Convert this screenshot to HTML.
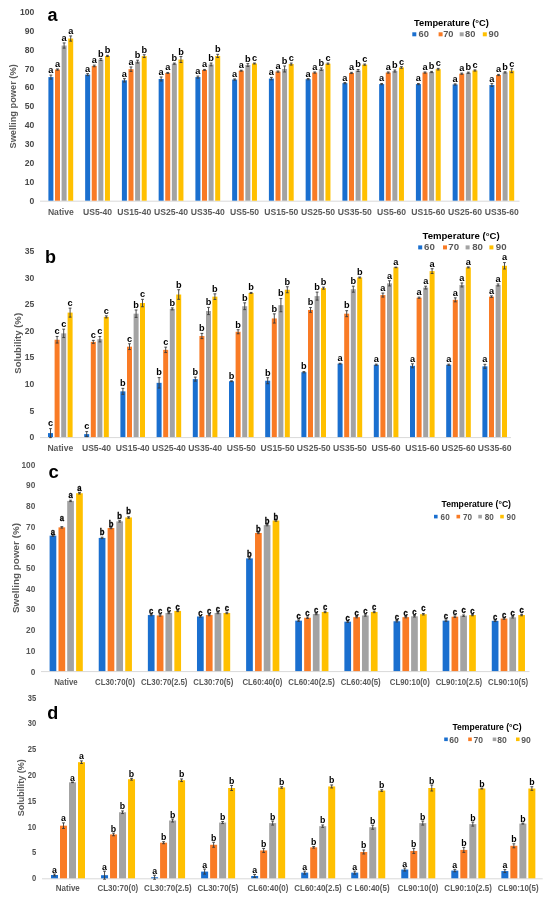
<!DOCTYPE html>
<html><head><meta charset="utf-8"><style>
html,body{margin:0;padding:0;background:#fff;width:550px;height:901px;overflow:hidden}
svg{display:block;font-family:"Liberation Sans",sans-serif;filter:blur(0.35px)}
</style></head><body>
<svg width="550" height="901" viewBox="0 0 550 901">
<text x="34.40" y="203.80" font-size="8.6" text-anchor="end" font-weight="bold" fill="#484848" >0</text>
<text x="34.40" y="184.90" font-size="8.6" text-anchor="end" font-weight="bold" fill="#484848" >10</text>
<text x="34.40" y="166.00" font-size="8.6" text-anchor="end" font-weight="bold" fill="#484848" >20</text>
<text x="34.40" y="147.10" font-size="8.6" text-anchor="end" font-weight="bold" fill="#484848" >30</text>
<text x="34.40" y="128.20" font-size="8.6" text-anchor="end" font-weight="bold" fill="#484848" >40</text>
<text x="34.40" y="109.30" font-size="8.6" text-anchor="end" font-weight="bold" fill="#484848" >50</text>
<text x="34.40" y="90.40" font-size="8.6" text-anchor="end" font-weight="bold" fill="#484848" >60</text>
<text x="34.40" y="71.50" font-size="8.6" text-anchor="end" font-weight="bold" fill="#484848" >70</text>
<text x="34.40" y="52.60" font-size="8.6" text-anchor="end" font-weight="bold" fill="#484848" >80</text>
<text x="34.40" y="33.70" font-size="8.6" text-anchor="end" font-weight="bold" fill="#484848" >90</text>
<text x="34.40" y="14.80" font-size="8.6" text-anchor="end" font-weight="bold" fill="#484848" >100</text>
<line x1="40" y1="201.20" x2="519.5" y2="201.20" stroke="#d9d9d9" stroke-width="1"/>
<rect x="48.40" y="77.09" width="5.00" height="123.61" fill="#1a6fcf"/>
<path d="M49.50 75.09h2.8M50.90 75.09V79.09M49.50 79.09h2.8" stroke="#3a3a3a" stroke-width="0.9" fill="none"/>
<text x="50.90" y="73.09" font-size="9.2" text-anchor="middle" font-weight="bold" fill="#000" >a</text>
<rect x="55.00" y="69.53" width="5.00" height="131.17" fill="#f97b25"/>
<path d="M56.10 68.93h2.8M57.50 68.93V70.13M56.10 70.13h2.8" stroke="#3a3a3a" stroke-width="0.9" fill="none"/>
<text x="57.50" y="66.93" font-size="9.2" text-anchor="middle" font-weight="bold" fill="#000" >a</text>
<rect x="61.60" y="45.53" width="5.00" height="155.17" fill="#a3a3a3"/>
<path d="M62.70 42.93h2.8M64.10 42.93V48.13M62.70 48.13h2.8" stroke="#3a3a3a" stroke-width="0.9" fill="none"/>
<text x="64.10" y="40.93" font-size="9.2" text-anchor="middle" font-weight="bold" fill="#000" >a</text>
<rect x="68.20" y="38.54" width="5.00" height="162.16" fill="#ffc000"/>
<path d="M69.30 35.94h2.8M70.70 35.94V41.14M69.30 41.14h2.8" stroke="#3a3a3a" stroke-width="0.9" fill="none"/>
<text x="70.70" y="33.94" font-size="9.2" text-anchor="middle" font-weight="bold" fill="#000" >a</text>
<text x="60.80" y="214.70" font-size="8.6" text-anchor="middle" font-weight="bold" fill="#595959" >Native</text>
<rect x="85.15" y="74.64" width="5.00" height="126.06" fill="#1a6fcf"/>
<path d="M86.25 73.64h2.8M87.65 73.64V75.64M86.25 75.64h2.8" stroke="#3a3a3a" stroke-width="0.9" fill="none"/>
<text x="87.65" y="71.64" font-size="9.2" text-anchor="middle" font-weight="bold" fill="#000" >a</text>
<rect x="91.75" y="65.94" width="5.00" height="134.76" fill="#f97b25"/>
<path d="M92.85 65.14h2.8M94.25 65.14V66.74M92.85 66.74h2.8" stroke="#3a3a3a" stroke-width="0.9" fill="none"/>
<text x="94.25" y="63.14" font-size="9.2" text-anchor="middle" font-weight="bold" fill="#000" >a</text>
<rect x="98.35" y="59.52" width="5.00" height="141.18" fill="#a3a3a3"/>
<path d="M99.45 58.52h2.8M100.85 58.52V60.52M99.45 60.52h2.8" stroke="#3a3a3a" stroke-width="0.9" fill="none"/>
<text x="100.85" y="56.52" font-size="9.2" text-anchor="middle" font-weight="bold" fill="#000" >b</text>
<rect x="104.95" y="55.93" width="5.00" height="144.77" fill="#ffc000"/>
<path d="M106.05 55.33h2.8M107.45 55.33V56.53M106.05 56.53h2.8" stroke="#3a3a3a" stroke-width="0.9" fill="none"/>
<text x="107.45" y="53.33" font-size="9.2" text-anchor="middle" font-weight="bold" fill="#000" >b</text>
<text x="97.55" y="214.70" font-size="8.6" text-anchor="middle" font-weight="bold" fill="#595959" >US5-40</text>
<rect x="121.90" y="80.31" width="5.00" height="120.39" fill="#1a6fcf"/>
<path d="M123.00 78.61h2.8M124.40 78.61V82.01M123.00 82.01h2.8" stroke="#3a3a3a" stroke-width="0.9" fill="none"/>
<text x="124.40" y="76.61" font-size="9.2" text-anchor="middle" font-weight="bold" fill="#000" >a</text>
<rect x="128.50" y="69.16" width="5.00" height="131.54" fill="#f97b25"/>
<path d="M129.60 66.96h2.8M131.00 66.96V71.36M129.60 71.36h2.8" stroke="#3a3a3a" stroke-width="0.9" fill="none"/>
<text x="131.00" y="64.96" font-size="9.2" text-anchor="middle" font-weight="bold" fill="#000" >a</text>
<rect x="135.10" y="61.60" width="5.00" height="139.10" fill="#a3a3a3"/>
<path d="M136.20 60.20h2.8M137.60 60.20V63.00M136.20 63.00h2.8" stroke="#3a3a3a" stroke-width="0.9" fill="none"/>
<text x="137.60" y="58.20" font-size="9.2" text-anchor="middle" font-weight="bold" fill="#000" >b</text>
<rect x="141.70" y="56.12" width="5.00" height="144.58" fill="#ffc000"/>
<path d="M142.80 54.72h2.8M144.20 54.72V57.52M142.80 57.52h2.8" stroke="#3a3a3a" stroke-width="0.9" fill="none"/>
<text x="144.20" y="52.72" font-size="9.2" text-anchor="middle" font-weight="bold" fill="#000" >b</text>
<text x="134.30" y="214.70" font-size="8.6" text-anchor="middle" font-weight="bold" fill="#595959" >US15-40</text>
<rect x="158.65" y="78.98" width="5.00" height="121.72" fill="#1a6fcf"/>
<path d="M159.75 76.98h2.8M161.15 76.98V80.98M159.75 80.98h2.8" stroke="#3a3a3a" stroke-width="0.9" fill="none"/>
<text x="161.15" y="74.98" font-size="9.2" text-anchor="middle" font-weight="bold" fill="#000" >a</text>
<rect x="165.25" y="72.94" width="5.00" height="127.76" fill="#f97b25"/>
<path d="M166.35 72.44h2.8M167.75 72.44V73.44M166.35 73.44h2.8" stroke="#3a3a3a" stroke-width="0.9" fill="none"/>
<text x="167.75" y="70.44" font-size="9.2" text-anchor="middle" font-weight="bold" fill="#000" >a</text>
<rect x="171.85" y="63.67" width="5.00" height="137.03" fill="#a3a3a3"/>
<path d="M172.95 63.07h2.8M174.35 63.07V64.27M172.95 64.27h2.8" stroke="#3a3a3a" stroke-width="0.9" fill="none"/>
<text x="174.35" y="61.07" font-size="9.2" text-anchor="middle" font-weight="bold" fill="#000" >b</text>
<rect x="178.45" y="59.52" width="5.00" height="141.18" fill="#ffc000"/>
<path d="M179.55 56.52h2.8M180.95 56.52V62.52M179.55 62.52h2.8" stroke="#3a3a3a" stroke-width="0.9" fill="none"/>
<text x="180.95" y="54.52" font-size="9.2" text-anchor="middle" font-weight="bold" fill="#000" >b</text>
<text x="171.05" y="214.70" font-size="8.6" text-anchor="middle" font-weight="bold" fill="#595959" >US25-40</text>
<rect x="195.40" y="77.09" width="5.00" height="123.61" fill="#1a6fcf"/>
<path d="M196.50 76.09h2.8M197.90 76.09V78.09M196.50 78.09h2.8" stroke="#3a3a3a" stroke-width="0.9" fill="none"/>
<text x="197.90" y="74.09" font-size="9.2" text-anchor="middle" font-weight="bold" fill="#000" >a</text>
<rect x="202.00" y="69.91" width="5.00" height="130.79" fill="#f97b25"/>
<path d="M203.10 69.41h2.8M204.50 69.41V70.41M203.10 70.41h2.8" stroke="#3a3a3a" stroke-width="0.9" fill="none"/>
<text x="204.50" y="67.41" font-size="9.2" text-anchor="middle" font-weight="bold" fill="#000" >a</text>
<rect x="208.60" y="64.43" width="5.00" height="136.27" fill="#a3a3a3"/>
<path d="M209.70 63.03h2.8M211.10 63.03V65.83M209.70 65.83h2.8" stroke="#3a3a3a" stroke-width="0.9" fill="none"/>
<text x="211.10" y="61.03" font-size="9.2" text-anchor="middle" font-weight="bold" fill="#000" >b</text>
<rect x="215.20" y="55.93" width="5.00" height="144.77" fill="#ffc000"/>
<path d="M216.30 54.33h2.8M217.70 54.33V57.53M216.30 57.53h2.8" stroke="#3a3a3a" stroke-width="0.9" fill="none"/>
<text x="217.70" y="52.33" font-size="9.2" text-anchor="middle" font-weight="bold" fill="#000" >b</text>
<text x="207.80" y="214.70" font-size="8.6" text-anchor="middle" font-weight="bold" fill="#595959" >US35-40</text>
<rect x="232.15" y="79.55" width="5.00" height="121.15" fill="#1a6fcf"/>
<path d="M233.25 78.95h2.8M234.65 78.95V80.15M233.25 80.15h2.8" stroke="#3a3a3a" stroke-width="0.9" fill="none"/>
<text x="234.65" y="76.95" font-size="9.2" text-anchor="middle" font-weight="bold" fill="#000" >a</text>
<rect x="238.75" y="70.67" width="5.00" height="130.03" fill="#f97b25"/>
<path d="M239.85 70.17h2.8M241.25 70.17V71.17M239.85 71.17h2.8" stroke="#3a3a3a" stroke-width="0.9" fill="none"/>
<text x="241.25" y="68.17" font-size="9.2" text-anchor="middle" font-weight="bold" fill="#000" >a</text>
<rect x="245.35" y="65.00" width="5.00" height="135.70" fill="#a3a3a3"/>
<path d="M246.45 63.60h2.8M247.85 63.60V66.40M246.45 66.40h2.8" stroke="#3a3a3a" stroke-width="0.9" fill="none"/>
<text x="247.85" y="61.60" font-size="9.2" text-anchor="middle" font-weight="bold" fill="#000" >b</text>
<rect x="251.95" y="63.49" width="5.00" height="137.21" fill="#ffc000"/>
<path d="M253.05 62.99h2.8M254.45 62.99V63.99M253.05 63.99h2.8" stroke="#3a3a3a" stroke-width="0.9" fill="none"/>
<text x="254.45" y="60.99" font-size="9.2" text-anchor="middle" font-weight="bold" fill="#000" >c</text>
<text x="244.55" y="214.70" font-size="8.6" text-anchor="middle" font-weight="bold" fill="#595959" >US5-50</text>
<rect x="268.90" y="78.61" width="5.00" height="122.09" fill="#1a6fcf"/>
<path d="M270.00 77.41h2.8M271.40 77.41V79.81M270.00 79.81h2.8" stroke="#3a3a3a" stroke-width="0.9" fill="none"/>
<text x="271.40" y="75.41" font-size="9.2" text-anchor="middle" font-weight="bold" fill="#000" >a</text>
<rect x="275.50" y="71.61" width="5.00" height="129.09" fill="#f97b25"/>
<path d="M276.60 71.01h2.8M278.00 71.01V72.21M276.60 72.21h2.8" stroke="#3a3a3a" stroke-width="0.9" fill="none"/>
<text x="278.00" y="69.01" font-size="9.2" text-anchor="middle" font-weight="bold" fill="#000" >a</text>
<rect x="282.10" y="68.97" width="5.00" height="131.73" fill="#a3a3a3"/>
<path d="M283.20 65.97h2.8M284.60 65.97V71.97M283.20 71.97h2.8" stroke="#3a3a3a" stroke-width="0.9" fill="none"/>
<text x="284.60" y="63.97" font-size="9.2" text-anchor="middle" font-weight="bold" fill="#000" >b</text>
<rect x="288.70" y="64.05" width="5.00" height="136.65" fill="#ffc000"/>
<path d="M289.80 63.05h2.8M291.20 63.05V65.05M289.80 65.05h2.8" stroke="#3a3a3a" stroke-width="0.9" fill="none"/>
<text x="291.20" y="61.05" font-size="9.2" text-anchor="middle" font-weight="bold" fill="#000" >c</text>
<text x="281.30" y="214.70" font-size="8.6" text-anchor="middle" font-weight="bold" fill="#595959" >US15-50</text>
<rect x="305.65" y="79.17" width="5.00" height="121.53" fill="#1a6fcf"/>
<path d="M306.75 78.57h2.8M308.15 78.57V79.77M306.75 79.77h2.8" stroke="#3a3a3a" stroke-width="0.9" fill="none"/>
<text x="308.15" y="76.57" font-size="9.2" text-anchor="middle" font-weight="bold" fill="#000" >a</text>
<rect x="312.25" y="72.56" width="5.00" height="128.14" fill="#f97b25"/>
<path d="M313.35 71.96h2.8M314.75 71.96V73.16M313.35 73.16h2.8" stroke="#3a3a3a" stroke-width="0.9" fill="none"/>
<text x="314.75" y="69.96" font-size="9.2" text-anchor="middle" font-weight="bold" fill="#000" >a</text>
<rect x="318.85" y="69.16" width="5.00" height="131.54" fill="#a3a3a3"/>
<path d="M319.95 67.96h2.8M321.35 67.96V70.36M319.95 70.36h2.8" stroke="#3a3a3a" stroke-width="0.9" fill="none"/>
<text x="321.35" y="65.96" font-size="9.2" text-anchor="middle" font-weight="bold" fill="#000" >b</text>
<rect x="325.45" y="63.67" width="5.00" height="137.03" fill="#ffc000"/>
<path d="M326.55 63.07h2.8M327.95 63.07V64.27M326.55 64.27h2.8" stroke="#3a3a3a" stroke-width="0.9" fill="none"/>
<text x="327.95" y="61.07" font-size="9.2" text-anchor="middle" font-weight="bold" fill="#000" >c</text>
<text x="318.05" y="214.70" font-size="8.6" text-anchor="middle" font-weight="bold" fill="#595959" >US25-50</text>
<rect x="342.40" y="83.14" width="5.00" height="117.56" fill="#1a6fcf"/>
<path d="M343.50 82.54h2.8M344.90 82.54V83.74M343.50 83.74h2.8" stroke="#3a3a3a" stroke-width="0.9" fill="none"/>
<text x="344.90" y="80.54" font-size="9.2" text-anchor="middle" font-weight="bold" fill="#000" >a</text>
<rect x="349.00" y="72.94" width="5.00" height="127.76" fill="#f97b25"/>
<path d="M350.10 72.34h2.8M351.50 72.34V73.54M350.10 73.54h2.8" stroke="#3a3a3a" stroke-width="0.9" fill="none"/>
<text x="351.50" y="70.34" font-size="9.2" text-anchor="middle" font-weight="bold" fill="#000" >a</text>
<rect x="355.60" y="70.48" width="5.00" height="130.22" fill="#a3a3a3"/>
<path d="M356.70 69.48h2.8M358.10 69.48V71.48M356.70 71.48h2.8" stroke="#3a3a3a" stroke-width="0.9" fill="none"/>
<text x="358.10" y="67.48" font-size="9.2" text-anchor="middle" font-weight="bold" fill="#000" >b</text>
<rect x="362.20" y="64.62" width="5.00" height="136.08" fill="#ffc000"/>
<path d="M363.30 64.02h2.8M364.70 64.02V65.22M363.30 65.22h2.8" stroke="#3a3a3a" stroke-width="0.9" fill="none"/>
<text x="364.70" y="62.02" font-size="9.2" text-anchor="middle" font-weight="bold" fill="#000" >c</text>
<text x="354.80" y="214.70" font-size="8.6" text-anchor="middle" font-weight="bold" fill="#595959" >US35-50</text>
<rect x="379.15" y="84.09" width="5.00" height="116.61" fill="#1a6fcf"/>
<path d="M380.25 83.49h2.8M381.65 83.49V84.69M380.25 84.69h2.8" stroke="#3a3a3a" stroke-width="0.9" fill="none"/>
<text x="381.65" y="81.49" font-size="9.2" text-anchor="middle" font-weight="bold" fill="#000" >a</text>
<rect x="385.75" y="72.56" width="5.00" height="128.14" fill="#f97b25"/>
<path d="M386.85 71.96h2.8M388.25 71.96V73.16M386.85 73.16h2.8" stroke="#3a3a3a" stroke-width="0.9" fill="none"/>
<text x="388.25" y="69.96" font-size="9.2" text-anchor="middle" font-weight="bold" fill="#000" >a</text>
<rect x="392.35" y="71.05" width="5.00" height="129.65" fill="#a3a3a3"/>
<path d="M393.45 70.05h2.8M394.85 70.05V72.05M393.45 72.05h2.8" stroke="#3a3a3a" stroke-width="0.9" fill="none"/>
<text x="394.85" y="68.05" font-size="9.2" text-anchor="middle" font-weight="bold" fill="#000" >b</text>
<rect x="398.95" y="67.45" width="5.00" height="133.25" fill="#ffc000"/>
<path d="M400.05 66.65h2.8M401.45 66.65V68.25M400.05 68.25h2.8" stroke="#3a3a3a" stroke-width="0.9" fill="none"/>
<text x="401.45" y="64.65" font-size="9.2" text-anchor="middle" font-weight="bold" fill="#000" >c</text>
<text x="391.55" y="214.70" font-size="8.6" text-anchor="middle" font-weight="bold" fill="#595959" >US5-60</text>
<rect x="415.90" y="84.09" width="5.00" height="116.61" fill="#1a6fcf"/>
<path d="M417.00 83.49h2.8M418.40 83.49V84.69M417.00 84.69h2.8" stroke="#3a3a3a" stroke-width="0.9" fill="none"/>
<text x="418.40" y="81.49" font-size="9.2" text-anchor="middle" font-weight="bold" fill="#000" >a</text>
<rect x="422.50" y="72.56" width="5.00" height="128.14" fill="#f97b25"/>
<path d="M423.60 71.96h2.8M425.00 71.96V73.16M423.60 73.16h2.8" stroke="#3a3a3a" stroke-width="0.9" fill="none"/>
<text x="425.00" y="69.96" font-size="9.2" text-anchor="middle" font-weight="bold" fill="#000" >a</text>
<rect x="429.10" y="71.99" width="5.00" height="128.71" fill="#a3a3a3"/>
<path d="M430.20 71.39h2.8M431.60 71.39V72.59M430.20 72.59h2.8" stroke="#3a3a3a" stroke-width="0.9" fill="none"/>
<text x="431.60" y="69.39" font-size="9.2" text-anchor="middle" font-weight="bold" fill="#000" >b</text>
<rect x="435.70" y="69.16" width="5.00" height="131.54" fill="#ffc000"/>
<path d="M436.80 68.36h2.8M438.20 68.36V69.96M436.80 69.96h2.8" stroke="#3a3a3a" stroke-width="0.9" fill="none"/>
<text x="438.20" y="66.36" font-size="9.2" text-anchor="middle" font-weight="bold" fill="#000" >c</text>
<text x="428.30" y="214.70" font-size="8.6" text-anchor="middle" font-weight="bold" fill="#595959" >US15-60</text>
<rect x="452.65" y="84.46" width="5.00" height="116.23" fill="#1a6fcf"/>
<path d="M453.75 83.86h2.8M455.15 83.86V85.06M453.75 85.06h2.8" stroke="#3a3a3a" stroke-width="0.9" fill="none"/>
<text x="455.15" y="81.86" font-size="9.2" text-anchor="middle" font-weight="bold" fill="#000" >a</text>
<rect x="459.25" y="73.69" width="5.00" height="127.01" fill="#f97b25"/>
<path d="M460.35 73.09h2.8M461.75 73.09V74.29M460.35 74.29h2.8" stroke="#3a3a3a" stroke-width="0.9" fill="none"/>
<text x="461.75" y="71.09" font-size="9.2" text-anchor="middle" font-weight="bold" fill="#000" >a</text>
<rect x="465.85" y="72.75" width="5.00" height="127.95" fill="#a3a3a3"/>
<path d="M466.95 72.15h2.8M468.35 72.15V73.35M466.95 73.35h2.8" stroke="#3a3a3a" stroke-width="0.9" fill="none"/>
<text x="468.35" y="70.15" font-size="9.2" text-anchor="middle" font-weight="bold" fill="#000" >b</text>
<rect x="472.45" y="70.48" width="5.00" height="130.22" fill="#ffc000"/>
<path d="M473.55 69.88h2.8M474.95 69.88V71.08M473.55 71.08h2.8" stroke="#3a3a3a" stroke-width="0.9" fill="none"/>
<text x="474.95" y="67.88" font-size="9.2" text-anchor="middle" font-weight="bold" fill="#000" >c</text>
<text x="465.05" y="214.70" font-size="8.6" text-anchor="middle" font-weight="bold" fill="#595959" >US25-60</text>
<rect x="489.40" y="85.03" width="5.00" height="115.67" fill="#1a6fcf"/>
<path d="M490.50 83.63h2.8M491.90 83.63V86.43M490.50 86.43h2.8" stroke="#3a3a3a" stroke-width="0.9" fill="none"/>
<text x="491.90" y="81.63" font-size="9.2" text-anchor="middle" font-weight="bold" fill="#000" >a</text>
<rect x="496.00" y="75.02" width="5.00" height="125.68" fill="#f97b25"/>
<path d="M497.10 74.42h2.8M498.50 74.42V75.61M497.10 75.61h2.8" stroke="#3a3a3a" stroke-width="0.9" fill="none"/>
<text x="498.50" y="72.42" font-size="9.2" text-anchor="middle" font-weight="bold" fill="#000" >a</text>
<rect x="502.60" y="72.37" width="5.00" height="128.33" fill="#a3a3a3"/>
<path d="M503.70 71.77h2.8M505.10 71.77V72.97M503.70 72.97h2.8" stroke="#3a3a3a" stroke-width="0.9" fill="none"/>
<text x="505.10" y="69.77" font-size="9.2" text-anchor="middle" font-weight="bold" fill="#000" >b</text>
<rect x="509.20" y="70.67" width="5.00" height="130.03" fill="#ffc000"/>
<path d="M510.30 68.67h2.8M511.70 68.67V72.67M510.30 72.67h2.8" stroke="#3a3a3a" stroke-width="0.9" fill="none"/>
<text x="511.70" y="66.67" font-size="9.2" text-anchor="middle" font-weight="bold" fill="#000" >c</text>
<text x="501.80" y="214.70" font-size="8.6" text-anchor="middle" font-weight="bold" fill="#595959" >US35-60</text>
<text x="47.50" y="20.70" font-size="18" text-anchor="start" font-weight="bold" fill="#000" >a</text>
<text transform="translate(15.60,106.40) rotate(-90)" font-size="9.25" text-anchor="middle" font-weight="bold" fill="#595959">Swelling power (%)</text>
<text x="414.00" y="26.20" font-size="9.3" text-anchor="start" font-weight="bold" fill="#000" >Temperature (°C)</text>
<rect x="412.30" y="32.30" width="4.00" height="4.00" fill="#1a6fcf"/>
<text x="418.50" y="37.40" font-size="9.3" text-anchor="start" font-weight="bold" fill="#595959" >60</text>
<rect x="438.60" y="32.30" width="4.00" height="4.00" fill="#f97b25"/>
<text x="443.20" y="37.40" font-size="9.3" text-anchor="start" font-weight="bold" fill="#595959" >70</text>
<rect x="459.70" y="32.30" width="4.00" height="4.00" fill="#a3a3a3"/>
<text x="465.00" y="37.40" font-size="9.3" text-anchor="start" font-weight="bold" fill="#595959" >80</text>
<rect x="482.80" y="32.30" width="4.00" height="4.00" fill="#ffc000"/>
<text x="488.50" y="37.40" font-size="9.3" text-anchor="start" font-weight="bold" fill="#595959" >90</text>
<text x="34.40" y="440.10" font-size="8.6" text-anchor="end" font-weight="bold" fill="#4d4d4d" >0</text>
<text x="34.40" y="413.50" font-size="8.6" text-anchor="end" font-weight="bold" fill="#4d4d4d" >5</text>
<text x="34.40" y="386.90" font-size="8.6" text-anchor="end" font-weight="bold" fill="#4d4d4d" >10</text>
<text x="34.40" y="360.30" font-size="8.6" text-anchor="end" font-weight="bold" fill="#4d4d4d" >15</text>
<text x="34.40" y="333.70" font-size="8.6" text-anchor="end" font-weight="bold" fill="#4d4d4d" >20</text>
<text x="34.40" y="307.10" font-size="8.6" text-anchor="end" font-weight="bold" fill="#4d4d4d" >25</text>
<text x="34.40" y="280.50" font-size="8.6" text-anchor="end" font-weight="bold" fill="#4d4d4d" >30</text>
<text x="34.40" y="253.90" font-size="8.6" text-anchor="end" font-weight="bold" fill="#4d4d4d" >35</text>
<line x1="40" y1="437.60" x2="511" y2="437.60" stroke="#d9d9d9" stroke-width="1"/>
<rect x="48.00" y="433.11" width="5.00" height="3.99" fill="#1a6fcf"/>
<path d="M49.10 428.61h2.8M50.50 428.61V437.61M49.10 437.61h2.8" stroke="#3a3a3a" stroke-width="0.9" fill="none"/>
<text x="50.50" y="426.41" font-size="9.2" text-anchor="middle" font-weight="bold" fill="#000" >c</text>
<rect x="54.60" y="339.74" width="5.00" height="97.36" fill="#f97b25"/>
<path d="M55.70 336.44h2.8M57.10 336.44V343.04M55.70 343.04h2.8" stroke="#3a3a3a" stroke-width="0.9" fill="none"/>
<text x="57.10" y="334.24" font-size="9.2" text-anchor="middle" font-weight="bold" fill="#000" >c</text>
<rect x="61.20" y="333.36" width="5.00" height="103.74" fill="#a3a3a3"/>
<path d="M62.30 329.16h2.8M63.70 329.16V337.56M62.30 337.56h2.8" stroke="#3a3a3a" stroke-width="0.9" fill="none"/>
<text x="63.70" y="326.96" font-size="9.2" text-anchor="middle" font-weight="bold" fill="#000" >c</text>
<rect x="67.60" y="312.61" width="5.00" height="124.49" fill="#ffc000"/>
<path d="M68.70 308.11h2.8M70.10 308.11V317.11M68.70 317.11h2.8" stroke="#3a3a3a" stroke-width="0.9" fill="none"/>
<text x="70.10" y="305.91" font-size="9.2" text-anchor="middle" font-weight="bold" fill="#000" >c</text>
<text x="60.30" y="450.90" font-size="8.6" text-anchor="middle" font-weight="bold" fill="#595959" >Native</text>
<rect x="84.20" y="434.12" width="5.00" height="2.98" fill="#1a6fcf"/>
<path d="M85.30 431.62h2.8M86.70 431.62V436.62M85.30 436.62h2.8" stroke="#3a3a3a" stroke-width="0.9" fill="none"/>
<text x="86.70" y="429.42" font-size="9.2" text-anchor="middle" font-weight="bold" fill="#000" >c</text>
<rect x="90.80" y="341.87" width="5.00" height="95.23" fill="#f97b25"/>
<path d="M91.90 340.37h2.8M93.30 340.37V343.37M91.90 343.37h2.8" stroke="#3a3a3a" stroke-width="0.9" fill="none"/>
<text x="93.30" y="338.17" font-size="9.2" text-anchor="middle" font-weight="bold" fill="#000" >c</text>
<rect x="97.40" y="339.21" width="5.00" height="97.89" fill="#a3a3a3"/>
<path d="M98.50 336.51h2.8M99.90 336.51V341.91M98.50 341.91h2.8" stroke="#3a3a3a" stroke-width="0.9" fill="none"/>
<text x="99.90" y="334.31" font-size="9.2" text-anchor="middle" font-weight="bold" fill="#000" >c</text>
<rect x="103.80" y="316.87" width="5.00" height="120.23" fill="#ffc000"/>
<path d="M104.90 315.87h2.8M106.30 315.87V317.87M104.90 317.87h2.8" stroke="#3a3a3a" stroke-width="0.9" fill="none"/>
<text x="106.30" y="313.67" font-size="9.2" text-anchor="middle" font-weight="bold" fill="#000" >c</text>
<text x="96.50" y="450.90" font-size="8.6" text-anchor="middle" font-weight="bold" fill="#595959" >US5-40</text>
<rect x="120.40" y="391.35" width="5.00" height="45.75" fill="#1a6fcf"/>
<path d="M121.50 388.35h2.8M122.90 388.35V394.35M121.50 394.35h2.8" stroke="#3a3a3a" stroke-width="0.9" fill="none"/>
<text x="122.90" y="386.15" font-size="9.2" text-anchor="middle" font-weight="bold" fill="#000" >b</text>
<rect x="127.00" y="346.66" width="5.00" height="90.44" fill="#f97b25"/>
<path d="M128.10 343.76h2.8M129.50 343.76V349.56M128.10 349.56h2.8" stroke="#3a3a3a" stroke-width="0.9" fill="none"/>
<text x="129.50" y="341.56" font-size="9.2" text-anchor="middle" font-weight="bold" fill="#000" >c</text>
<rect x="133.60" y="313.68" width="5.00" height="123.42" fill="#a3a3a3"/>
<path d="M134.70 309.98h2.8M136.10 309.98V317.38M134.70 317.38h2.8" stroke="#3a3a3a" stroke-width="0.9" fill="none"/>
<text x="136.10" y="307.78" font-size="9.2" text-anchor="middle" font-weight="bold" fill="#000" >b</text>
<rect x="140.00" y="303.04" width="5.00" height="134.06" fill="#ffc000"/>
<path d="M141.10 299.34h2.8M142.50 299.34V306.74M141.10 306.74h2.8" stroke="#3a3a3a" stroke-width="0.9" fill="none"/>
<text x="142.50" y="297.14" font-size="9.2" text-anchor="middle" font-weight="bold" fill="#000" >c</text>
<text x="132.70" y="450.90" font-size="8.6" text-anchor="middle" font-weight="bold" fill="#595959" >US15-40</text>
<rect x="156.60" y="382.84" width="5.00" height="54.26" fill="#1a6fcf"/>
<path d="M157.70 377.64h2.8M159.10 377.64V388.04M157.70 388.04h2.8" stroke="#3a3a3a" stroke-width="0.9" fill="none"/>
<text x="159.10" y="375.44" font-size="9.2" text-anchor="middle" font-weight="bold" fill="#000" >b</text>
<rect x="163.20" y="349.85" width="5.00" height="87.25" fill="#f97b25"/>
<path d="M164.30 347.15h2.8M165.70 347.15V352.55M164.30 352.55h2.8" stroke="#3a3a3a" stroke-width="0.9" fill="none"/>
<text x="165.70" y="344.95" font-size="9.2" text-anchor="middle" font-weight="bold" fill="#000" >c</text>
<rect x="169.80" y="308.89" width="5.00" height="128.21" fill="#a3a3a3"/>
<path d="M170.90 307.89h2.8M172.30 307.89V309.89M170.90 309.89h2.8" stroke="#3a3a3a" stroke-width="0.9" fill="none"/>
<text x="172.30" y="305.69" font-size="9.2" text-anchor="middle" font-weight="bold" fill="#000" >b</text>
<rect x="176.20" y="294.52" width="5.00" height="142.58" fill="#ffc000"/>
<path d="M177.30 289.72h2.8M178.70 289.72V299.32M177.30 299.32h2.8" stroke="#3a3a3a" stroke-width="0.9" fill="none"/>
<text x="178.70" y="287.52" font-size="9.2" text-anchor="middle" font-weight="bold" fill="#000" >b</text>
<text x="168.90" y="450.90" font-size="8.6" text-anchor="middle" font-weight="bold" fill="#595959" >US25-40</text>
<rect x="192.80" y="379.11" width="5.00" height="57.99" fill="#1a6fcf"/>
<path d="M193.90 377.11h2.8M195.30 377.11V381.11M193.90 381.11h2.8" stroke="#3a3a3a" stroke-width="0.9" fill="none"/>
<text x="195.30" y="374.91" font-size="9.2" text-anchor="middle" font-weight="bold" fill="#000" >b</text>
<rect x="199.40" y="336.02" width="5.00" height="101.08" fill="#f97b25"/>
<path d="M200.50 333.42h2.8M201.90 333.42V338.62M200.50 338.62h2.8" stroke="#3a3a3a" stroke-width="0.9" fill="none"/>
<text x="201.90" y="331.22" font-size="9.2" text-anchor="middle" font-weight="bold" fill="#000" >b</text>
<rect x="206.00" y="311.02" width="5.00" height="126.08" fill="#a3a3a3"/>
<path d="M207.10 307.42h2.8M208.50 307.42V314.62M207.10 314.62h2.8" stroke="#3a3a3a" stroke-width="0.9" fill="none"/>
<text x="208.50" y="305.22" font-size="9.2" text-anchor="middle" font-weight="bold" fill="#000" >b</text>
<rect x="212.40" y="296.65" width="5.00" height="140.45" fill="#ffc000"/>
<path d="M213.50 293.85h2.8M214.90 293.85V299.45M213.50 299.45h2.8" stroke="#3a3a3a" stroke-width="0.9" fill="none"/>
<text x="214.90" y="291.65" font-size="9.2" text-anchor="middle" font-weight="bold" fill="#000" >b</text>
<text x="205.10" y="450.90" font-size="8.6" text-anchor="middle" font-weight="bold" fill="#595959" >US35-40</text>
<rect x="229.00" y="381.24" width="5.00" height="55.86" fill="#1a6fcf"/>
<path d="M230.10 380.84h2.8M231.50 380.84V381.64M230.10 381.64h2.8" stroke="#3a3a3a" stroke-width="0.9" fill="none"/>
<text x="231.50" y="378.64" font-size="9.2" text-anchor="middle" font-weight="bold" fill="#000" >b</text>
<rect x="235.60" y="331.76" width="5.00" height="105.34" fill="#f97b25"/>
<path d="M236.70 329.76h2.8M238.10 329.76V333.76M236.70 333.76h2.8" stroke="#3a3a3a" stroke-width="0.9" fill="none"/>
<text x="238.10" y="327.56" font-size="9.2" text-anchor="middle" font-weight="bold" fill="#000" >b</text>
<rect x="242.20" y="306.23" width="5.00" height="130.87" fill="#a3a3a3"/>
<path d="M243.30 302.83h2.8M244.70 302.83V309.63M243.30 309.63h2.8" stroke="#3a3a3a" stroke-width="0.9" fill="none"/>
<text x="244.70" y="300.63" font-size="9.2" text-anchor="middle" font-weight="bold" fill="#000" >b</text>
<rect x="248.60" y="292.93" width="5.00" height="144.17" fill="#ffc000"/>
<path d="M249.70 292.43h2.8M251.10 292.43V293.43M249.70 293.43h2.8" stroke="#3a3a3a" stroke-width="0.9" fill="none"/>
<text x="251.10" y="290.23" font-size="9.2" text-anchor="middle" font-weight="bold" fill="#000" >b</text>
<text x="241.30" y="450.90" font-size="8.6" text-anchor="middle" font-weight="bold" fill="#595959" >US5-50</text>
<rect x="265.20" y="380.71" width="5.00" height="56.39" fill="#1a6fcf"/>
<path d="M266.30 377.71h2.8M267.70 377.71V383.71M266.30 383.71h2.8" stroke="#3a3a3a" stroke-width="0.9" fill="none"/>
<text x="267.70" y="375.51" font-size="9.2" text-anchor="middle" font-weight="bold" fill="#000" >b</text>
<rect x="271.80" y="318.46" width="5.00" height="118.64" fill="#f97b25"/>
<path d="M272.90 313.86h2.8M274.30 313.86V323.06M272.90 323.06h2.8" stroke="#3a3a3a" stroke-width="0.9" fill="none"/>
<text x="274.30" y="311.66" font-size="9.2" text-anchor="middle" font-weight="bold" fill="#000" >b</text>
<rect x="278.40" y="305.16" width="5.00" height="131.94" fill="#a3a3a3"/>
<path d="M279.50 298.56h2.8M280.90 298.56V311.76M279.50 311.76h2.8" stroke="#3a3a3a" stroke-width="0.9" fill="none"/>
<text x="280.90" y="296.36" font-size="9.2" text-anchor="middle" font-weight="bold" fill="#000" >b</text>
<rect x="284.80" y="289.74" width="5.00" height="147.36" fill="#ffc000"/>
<path d="M285.90 286.74h2.8M287.30 286.74V292.74M285.90 292.74h2.8" stroke="#3a3a3a" stroke-width="0.9" fill="none"/>
<text x="287.30" y="284.54" font-size="9.2" text-anchor="middle" font-weight="bold" fill="#000" >b</text>
<text x="277.50" y="450.90" font-size="8.6" text-anchor="middle" font-weight="bold" fill="#595959" >US15-50</text>
<rect x="301.40" y="372.20" width="5.00" height="64.90" fill="#1a6fcf"/>
<path d="M302.50 371.60h2.8M303.90 371.60V372.80M302.50 372.80h2.8" stroke="#3a3a3a" stroke-width="0.9" fill="none"/>
<text x="303.90" y="369.40" font-size="9.2" text-anchor="middle" font-weight="bold" fill="#000" >b</text>
<rect x="308.00" y="309.95" width="5.00" height="127.15" fill="#f97b25"/>
<path d="M309.10 307.55h2.8M310.50 307.55V312.35M309.10 312.35h2.8" stroke="#3a3a3a" stroke-width="0.9" fill="none"/>
<text x="310.50" y="305.35" font-size="9.2" text-anchor="middle" font-weight="bold" fill="#000" >b</text>
<rect x="314.60" y="296.12" width="5.00" height="140.98" fill="#a3a3a3"/>
<path d="M315.70 292.12h2.8M317.10 292.12V300.12M315.70 300.12h2.8" stroke="#3a3a3a" stroke-width="0.9" fill="none"/>
<text x="317.10" y="289.92" font-size="9.2" text-anchor="middle" font-weight="bold" fill="#000" >b</text>
<rect x="321.00" y="288.14" width="5.00" height="148.96" fill="#ffc000"/>
<path d="M322.10 287.14h2.8M323.50 287.14V289.14M322.10 289.14h2.8" stroke="#3a3a3a" stroke-width="0.9" fill="none"/>
<text x="323.50" y="284.94" font-size="9.2" text-anchor="middle" font-weight="bold" fill="#000" >b</text>
<text x="313.70" y="450.90" font-size="8.6" text-anchor="middle" font-weight="bold" fill="#595959" >US25-50</text>
<rect x="337.60" y="363.68" width="5.00" height="73.42" fill="#1a6fcf"/>
<path d="M338.70 363.28h2.8M340.10 363.28V364.08M338.70 364.08h2.8" stroke="#3a3a3a" stroke-width="0.9" fill="none"/>
<text x="340.10" y="361.08" font-size="9.2" text-anchor="middle" font-weight="bold" fill="#000" >a</text>
<rect x="344.20" y="313.68" width="5.00" height="123.42" fill="#f97b25"/>
<path d="M345.30 310.68h2.8M346.70 310.68V316.68M345.30 316.68h2.8" stroke="#3a3a3a" stroke-width="0.9" fill="none"/>
<text x="346.70" y="308.48" font-size="9.2" text-anchor="middle" font-weight="bold" fill="#000" >b</text>
<rect x="350.80" y="289.20" width="5.00" height="147.90" fill="#a3a3a3"/>
<path d="M351.90 286.20h2.8M353.30 286.20V292.20M351.90 292.20h2.8" stroke="#3a3a3a" stroke-width="0.9" fill="none"/>
<text x="353.30" y="284.00" font-size="9.2" text-anchor="middle" font-weight="bold" fill="#000" >b</text>
<rect x="357.20" y="277.50" width="5.00" height="159.60" fill="#ffc000"/>
<path d="M358.30 277.00h2.8M359.70 277.00V278.00M358.30 278.00h2.8" stroke="#3a3a3a" stroke-width="0.9" fill="none"/>
<text x="359.70" y="274.80" font-size="9.2" text-anchor="middle" font-weight="bold" fill="#000" >b</text>
<text x="349.90" y="450.90" font-size="8.6" text-anchor="middle" font-weight="bold" fill="#595959" >US35-50</text>
<rect x="373.80" y="364.75" width="5.00" height="72.35" fill="#1a6fcf"/>
<path d="M374.90 364.15h2.8M376.30 364.15V365.35M374.90 365.35h2.8" stroke="#3a3a3a" stroke-width="0.9" fill="none"/>
<text x="376.30" y="361.95" font-size="9.2" text-anchor="middle" font-weight="bold" fill="#000" >a</text>
<rect x="380.40" y="295.06" width="5.00" height="142.04" fill="#f97b25"/>
<path d="M381.50 293.06h2.8M382.90 293.06V297.06M381.50 297.06h2.8" stroke="#3a3a3a" stroke-width="0.9" fill="none"/>
<text x="382.90" y="290.86" font-size="9.2" text-anchor="middle" font-weight="bold" fill="#000" >a</text>
<rect x="387.00" y="283.35" width="5.00" height="153.75" fill="#a3a3a3"/>
<path d="M388.10 280.75h2.8M389.50 280.75V285.95M388.10 285.95h2.8" stroke="#3a3a3a" stroke-width="0.9" fill="none"/>
<text x="389.50" y="278.55" font-size="9.2" text-anchor="middle" font-weight="bold" fill="#000" >a</text>
<rect x="393.40" y="267.39" width="5.00" height="169.71" fill="#ffc000"/>
<path d="M394.50 267.09h2.8M395.90 267.09V267.69M394.50 267.69h2.8" stroke="#3a3a3a" stroke-width="0.9" fill="none"/>
<text x="395.90" y="264.89" font-size="9.2" text-anchor="middle" font-weight="bold" fill="#000" >a</text>
<text x="386.10" y="450.90" font-size="8.6" text-anchor="middle" font-weight="bold" fill="#595959" >US5-60</text>
<rect x="410.00" y="365.81" width="5.00" height="71.29" fill="#1a6fcf"/>
<path d="M411.10 363.81h2.8M412.50 363.81V367.81M411.10 367.81h2.8" stroke="#3a3a3a" stroke-width="0.9" fill="none"/>
<text x="412.50" y="361.61" font-size="9.2" text-anchor="middle" font-weight="bold" fill="#000" >a</text>
<rect x="416.60" y="297.72" width="5.00" height="139.38" fill="#f97b25"/>
<path d="M417.70 297.12h2.8M419.10 297.12V298.32M417.70 298.32h2.8" stroke="#3a3a3a" stroke-width="0.9" fill="none"/>
<text x="419.10" y="294.92" font-size="9.2" text-anchor="middle" font-weight="bold" fill="#000" >a</text>
<rect x="423.20" y="287.61" width="5.00" height="149.49" fill="#a3a3a3"/>
<path d="M424.30 286.21h2.8M425.70 286.21V289.01M424.30 289.01h2.8" stroke="#3a3a3a" stroke-width="0.9" fill="none"/>
<text x="425.70" y="284.01" font-size="9.2" text-anchor="middle" font-weight="bold" fill="#000" >a</text>
<rect x="429.60" y="271.12" width="5.00" height="165.98" fill="#ffc000"/>
<path d="M430.70 268.72h2.8M432.10 268.72V273.52M430.70 273.52h2.8" stroke="#3a3a3a" stroke-width="0.9" fill="none"/>
<text x="432.10" y="266.52" font-size="9.2" text-anchor="middle" font-weight="bold" fill="#000" >a</text>
<text x="422.30" y="450.90" font-size="8.6" text-anchor="middle" font-weight="bold" fill="#595959" >US15-60</text>
<rect x="446.20" y="364.75" width="5.00" height="72.35" fill="#1a6fcf"/>
<path d="M447.30 364.15h2.8M448.70 364.15V365.35M447.30 365.35h2.8" stroke="#3a3a3a" stroke-width="0.9" fill="none"/>
<text x="448.70" y="361.95" font-size="9.2" text-anchor="middle" font-weight="bold" fill="#000" >a</text>
<rect x="452.80" y="299.84" width="5.00" height="137.26" fill="#f97b25"/>
<path d="M453.90 297.84h2.8M455.30 297.84V301.84M453.90 301.84h2.8" stroke="#3a3a3a" stroke-width="0.9" fill="none"/>
<text x="455.30" y="295.64" font-size="9.2" text-anchor="middle" font-weight="bold" fill="#000" >a</text>
<rect x="459.40" y="284.95" width="5.00" height="152.15" fill="#a3a3a3"/>
<path d="M460.50 282.95h2.8M461.90 282.95V286.95M460.50 286.95h2.8" stroke="#3a3a3a" stroke-width="0.9" fill="none"/>
<text x="461.90" y="280.75" font-size="9.2" text-anchor="middle" font-weight="bold" fill="#000" >a</text>
<rect x="465.80" y="267.39" width="5.00" height="169.71" fill="#ffc000"/>
<path d="M466.90 266.89h2.8M468.30 266.89V267.89M466.90 267.89h2.8" stroke="#3a3a3a" stroke-width="0.9" fill="none"/>
<text x="468.30" y="264.69" font-size="9.2" text-anchor="middle" font-weight="bold" fill="#000" >a</text>
<text x="458.50" y="450.90" font-size="8.6" text-anchor="middle" font-weight="bold" fill="#595959" >US25-60</text>
<rect x="482.40" y="366.34" width="5.00" height="70.76" fill="#1a6fcf"/>
<path d="M483.50 364.34h2.8M484.90 364.34V368.34M483.50 368.34h2.8" stroke="#3a3a3a" stroke-width="0.9" fill="none"/>
<text x="484.90" y="362.14" font-size="9.2" text-anchor="middle" font-weight="bold" fill="#000" >a</text>
<rect x="489.00" y="296.65" width="5.00" height="140.45" fill="#f97b25"/>
<path d="M490.10 295.85h2.8M491.50 295.85V297.45M490.10 297.45h2.8" stroke="#3a3a3a" stroke-width="0.9" fill="none"/>
<text x="491.50" y="293.65" font-size="9.2" text-anchor="middle" font-weight="bold" fill="#000" >a</text>
<rect x="495.60" y="284.95" width="5.00" height="152.15" fill="#a3a3a3"/>
<path d="M496.70 283.95h2.8M498.10 283.95V285.95M496.70 285.95h2.8" stroke="#3a3a3a" stroke-width="0.9" fill="none"/>
<text x="498.10" y="281.75" font-size="9.2" text-anchor="middle" font-weight="bold" fill="#000" >a</text>
<rect x="502.00" y="265.80" width="5.00" height="171.30" fill="#ffc000"/>
<path d="M503.10 262.60h2.8M504.50 262.60V269.00M503.10 269.00h2.8" stroke="#3a3a3a" stroke-width="0.9" fill="none"/>
<text x="504.50" y="260.40" font-size="9.2" text-anchor="middle" font-weight="bold" fill="#000" >a</text>
<text x="494.70" y="450.90" font-size="8.6" text-anchor="middle" font-weight="bold" fill="#595959" >US35-60</text>
<text x="45.00" y="263.00" font-size="18" text-anchor="start" font-weight="bold" fill="#000" >b</text>
<text transform="translate(20.60,343.30) rotate(-90)" font-size="9.6" text-anchor="middle" font-weight="bold" fill="#595959">Solubility (%)</text>
<text x="422.50" y="238.80" font-size="9.6" text-anchor="start" font-weight="bold" fill="#000" >Temperature (°C)</text>
<rect x="418.20" y="245.40" width="4.00" height="4.00" fill="#1a6fcf"/>
<text x="424.00" y="250.40" font-size="9.7" text-anchor="start" font-weight="bold" fill="#595959" >60</text>
<rect x="443.00" y="245.40" width="4.00" height="4.00" fill="#f97b25"/>
<text x="448.30" y="250.40" font-size="9.7" text-anchor="start" font-weight="bold" fill="#595959" >70</text>
<rect x="465.60" y="245.40" width="4.00" height="4.00" fill="#a3a3a3"/>
<text x="472.20" y="250.40" font-size="9.7" text-anchor="start" font-weight="bold" fill="#595959" >80</text>
<rect x="489.40" y="245.40" width="4.00" height="4.00" fill="#ffc000"/>
<text x="495.80" y="250.40" font-size="9.7" text-anchor="start" font-weight="bold" fill="#595959" >90</text>
<text transform="translate(35.30,674.50) scale(0.85,1)" font-size="9.8" text-anchor="end" font-weight="bold" fill="#595959" >0</text>
<text transform="translate(35.30,653.82) scale(0.85,1)" font-size="9.8" text-anchor="end" font-weight="bold" fill="#595959" >10</text>
<text transform="translate(35.30,633.14) scale(0.85,1)" font-size="9.8" text-anchor="end" font-weight="bold" fill="#595959" >20</text>
<text transform="translate(35.30,612.46) scale(0.85,1)" font-size="9.8" text-anchor="end" font-weight="bold" fill="#595959" >30</text>
<text transform="translate(35.30,591.78) scale(0.85,1)" font-size="9.8" text-anchor="end" font-weight="bold" fill="#595959" >40</text>
<text transform="translate(35.30,571.10) scale(0.85,1)" font-size="9.8" text-anchor="end" font-weight="bold" fill="#595959" >50</text>
<text transform="translate(35.30,550.42) scale(0.85,1)" font-size="9.8" text-anchor="end" font-weight="bold" fill="#595959" >60</text>
<text transform="translate(35.30,529.74) scale(0.85,1)" font-size="9.8" text-anchor="end" font-weight="bold" fill="#595959" >70</text>
<text transform="translate(35.30,509.06) scale(0.85,1)" font-size="9.8" text-anchor="end" font-weight="bold" fill="#595959" >80</text>
<text transform="translate(35.30,488.38) scale(0.85,1)" font-size="9.8" text-anchor="end" font-weight="bold" fill="#595959" >90</text>
<text transform="translate(35.30,467.70) scale(0.85,1)" font-size="9.8" text-anchor="end" font-weight="bold" fill="#595959" >100</text>
<line x1="41" y1="671.60" x2="529.5" y2="671.60" stroke="#d9d9d9" stroke-width="1"/>
<rect x="49.60" y="535.65" width="6.70" height="135.45" fill="#1a6fcf"/>
<path d="M51.55 534.95h2.8M52.95 534.95V536.35M51.55 536.35h2.8" stroke="#3a3a3a" stroke-width="0.9" fill="none"/>
<text transform="translate(52.95,534.85) scale(0.8,1)" font-size="9.6" text-anchor="middle" font-weight="bold" fill="#000" stroke="#000" stroke-width="0.35">a</text>
<rect x="58.50" y="527.37" width="6.70" height="143.73" fill="#f97b25"/>
<path d="M60.45 526.67h2.8M61.85 526.67V528.07M60.45 528.07h2.8" stroke="#3a3a3a" stroke-width="0.9" fill="none"/>
<text transform="translate(61.85,521.47) scale(0.8,1)" font-size="9.6" text-anchor="middle" font-weight="bold" fill="#000" stroke="#000" stroke-width="0.35">a</text>
<rect x="67.20" y="500.90" width="6.70" height="170.20" fill="#a3a3a3"/>
<path d="M69.15 500.20h2.8M70.55 500.20V501.60M69.15 501.60h2.8" stroke="#3a3a3a" stroke-width="0.9" fill="none"/>
<text transform="translate(70.55,497.80) scale(0.8,1)" font-size="9.6" text-anchor="middle" font-weight="bold" fill="#000" stroke="#000" stroke-width="0.35">a</text>
<rect x="76.10" y="493.25" width="6.70" height="177.85" fill="#ffc000"/>
<path d="M78.05 492.55h2.8M79.45 492.55V493.95M78.05 493.95h2.8" stroke="#3a3a3a" stroke-width="0.9" fill="none"/>
<text transform="translate(79.45,490.85) scale(0.8,1)" font-size="9.6" text-anchor="middle" font-weight="bold" fill="#000" stroke="#000" stroke-width="0.35">a</text>
<text transform="translate(65.90,685.40) scale(0.8,1)" font-size="9.8" text-anchor="middle" font-weight="bold" fill="#595959" >Native</text>
<rect x="98.73" y="537.92" width="6.70" height="133.18" fill="#1a6fcf"/>
<path d="M100.68 537.22h2.8M102.08 537.22V538.62M100.68 538.62h2.8" stroke="#3a3a3a" stroke-width="0.9" fill="none"/>
<text transform="translate(102.08,534.72) scale(0.8,1)" font-size="9.6" text-anchor="middle" font-weight="bold" fill="#000" stroke="#000" stroke-width="0.35">b</text>
<rect x="107.63" y="527.99" width="6.70" height="143.11" fill="#f97b25"/>
<path d="M109.58 527.29h2.8M110.98 527.29V528.69M109.58 528.69h2.8" stroke="#3a3a3a" stroke-width="0.9" fill="none"/>
<text transform="translate(110.98,526.79) scale(0.8,1)" font-size="9.6" text-anchor="middle" font-weight="bold" fill="#000" stroke="#000" stroke-width="0.35">b</text>
<rect x="116.33" y="521.38" width="6.70" height="149.72" fill="#a3a3a3"/>
<path d="M118.28 520.68h2.8M119.68 520.68V522.08M118.28 522.08h2.8" stroke="#3a3a3a" stroke-width="0.9" fill="none"/>
<text transform="translate(119.68,519.18) scale(0.8,1)" font-size="9.6" text-anchor="middle" font-weight="bold" fill="#000" stroke="#000" stroke-width="0.35">b</text>
<rect x="125.23" y="517.45" width="6.70" height="153.65" fill="#ffc000"/>
<path d="M127.18 516.75h2.8M128.58 516.75V518.15M127.18 518.15h2.8" stroke="#3a3a3a" stroke-width="0.9" fill="none"/>
<text transform="translate(128.58,514.35) scale(0.8,1)" font-size="9.6" text-anchor="middle" font-weight="bold" fill="#000" stroke="#000" stroke-width="0.35">b</text>
<text transform="translate(115.03,685.40) scale(0.8,1)" font-size="9.8" text-anchor="middle" font-weight="bold" fill="#595959" >CL30:70(0)</text>
<rect x="147.86" y="615.06" width="6.70" height="56.04" fill="#1a6fcf"/>
<path d="M149.81 614.36h2.8M151.21 614.36V615.76M149.81 615.76h2.8" stroke="#3a3a3a" stroke-width="0.9" fill="none"/>
<text transform="translate(151.21,614.06) scale(0.8,1)" font-size="9.6" text-anchor="middle" font-weight="bold" fill="#000" stroke="#000" stroke-width="0.35">c</text>
<rect x="156.76" y="615.47" width="6.70" height="55.63" fill="#f97b25"/>
<path d="M158.71 614.77h2.8M160.11 614.77V616.17M158.71 616.17h2.8" stroke="#3a3a3a" stroke-width="0.9" fill="none"/>
<text transform="translate(160.11,614.47) scale(0.8,1)" font-size="9.6" text-anchor="middle" font-weight="bold" fill="#000" stroke="#000" stroke-width="0.35">c</text>
<rect x="165.46" y="612.99" width="6.70" height="58.11" fill="#a3a3a3"/>
<path d="M167.41 612.29h2.8M168.81 612.29V613.69M167.41 613.69h2.8" stroke="#3a3a3a" stroke-width="0.9" fill="none"/>
<text transform="translate(168.81,611.99) scale(0.8,1)" font-size="9.6" text-anchor="middle" font-weight="bold" fill="#000" stroke="#000" stroke-width="0.35">c</text>
<rect x="174.36" y="610.92" width="6.70" height="60.18" fill="#ffc000"/>
<path d="M176.31 610.22h2.8M177.71 610.22V611.62M176.31 611.62h2.8" stroke="#3a3a3a" stroke-width="0.9" fill="none"/>
<text transform="translate(177.71,609.92) scale(0.8,1)" font-size="9.6" text-anchor="middle" font-weight="bold" fill="#000" stroke="#000" stroke-width="0.35">c</text>
<text transform="translate(164.16,685.40) scale(0.8,1)" font-size="9.8" text-anchor="middle" font-weight="bold" fill="#595959" >CL30:70(2.5)</text>
<rect x="196.99" y="616.50" width="6.70" height="54.60" fill="#1a6fcf"/>
<path d="M198.94 615.80h2.8M200.34 615.80V617.20M198.94 617.20h2.8" stroke="#3a3a3a" stroke-width="0.9" fill="none"/>
<text transform="translate(200.34,615.90) scale(0.8,1)" font-size="9.6" text-anchor="middle" font-weight="bold" fill="#000" stroke="#000" stroke-width="0.35">c</text>
<rect x="205.89" y="615.06" width="6.70" height="56.04" fill="#f97b25"/>
<path d="M207.84 614.36h2.8M209.24 614.36V615.76M207.84 615.76h2.8" stroke="#3a3a3a" stroke-width="0.9" fill="none"/>
<text transform="translate(209.24,614.06) scale(0.8,1)" font-size="9.6" text-anchor="middle" font-weight="bold" fill="#000" stroke="#000" stroke-width="0.35">c</text>
<rect x="214.59" y="612.99" width="6.70" height="58.11" fill="#a3a3a3"/>
<path d="M216.54 612.29h2.8M217.94 612.29V613.69M216.54 613.69h2.8" stroke="#3a3a3a" stroke-width="0.9" fill="none"/>
<text transform="translate(217.94,611.99) scale(0.8,1)" font-size="9.6" text-anchor="middle" font-weight="bold" fill="#000" stroke="#000" stroke-width="0.35">c</text>
<rect x="223.49" y="612.99" width="6.70" height="58.11" fill="#ffc000"/>
<path d="M225.44 612.29h2.8M226.84 612.29V613.69M225.44 613.69h2.8" stroke="#3a3a3a" stroke-width="0.9" fill="none"/>
<text transform="translate(226.84,610.99) scale(0.8,1)" font-size="9.6" text-anchor="middle" font-weight="bold" fill="#000" stroke="#000" stroke-width="0.35">c</text>
<text transform="translate(213.29,685.40) scale(0.8,1)" font-size="9.8" text-anchor="middle" font-weight="bold" fill="#595959" >CL30:70(5)</text>
<rect x="246.12" y="558.39" width="6.70" height="112.71" fill="#1a6fcf"/>
<path d="M248.07 557.69h2.8M249.47 557.69V559.09M248.07 559.09h2.8" stroke="#3a3a3a" stroke-width="0.9" fill="none"/>
<text transform="translate(249.47,556.99) scale(0.8,1)" font-size="9.6" text-anchor="middle" font-weight="bold" fill="#000" stroke="#000" stroke-width="0.35">b</text>
<rect x="255.02" y="532.96" width="6.70" height="138.14" fill="#f97b25"/>
<path d="M256.97 532.26h2.8M258.37 532.26V533.66M256.97 533.66h2.8" stroke="#3a3a3a" stroke-width="0.9" fill="none"/>
<text transform="translate(258.37,531.96) scale(0.8,1)" font-size="9.6" text-anchor="middle" font-weight="bold" fill="#000" stroke="#000" stroke-width="0.35">b</text>
<rect x="263.72" y="525.10" width="6.70" height="146.00" fill="#a3a3a3"/>
<path d="M265.67 524.40h2.8M267.07 524.40V525.80M265.67 525.80h2.8" stroke="#3a3a3a" stroke-width="0.9" fill="none"/>
<text transform="translate(267.07,524.10) scale(0.8,1)" font-size="9.6" text-anchor="middle" font-weight="bold" fill="#000" stroke="#000" stroke-width="0.35">b</text>
<rect x="272.62" y="520.55" width="6.70" height="150.55" fill="#ffc000"/>
<path d="M274.57 519.85h2.8M275.97 519.85V521.25M274.57 521.25h2.8" stroke="#3a3a3a" stroke-width="0.9" fill="none"/>
<text transform="translate(275.97,519.95) scale(0.8,1)" font-size="9.6" text-anchor="middle" font-weight="bold" fill="#000" stroke="#000" stroke-width="0.35">b</text>
<text transform="translate(262.42,685.40) scale(0.8,1)" font-size="9.8" text-anchor="middle" font-weight="bold" fill="#595959" >CL60:40(0)</text>
<rect x="295.25" y="620.64" width="6.70" height="50.46" fill="#1a6fcf"/>
<path d="M297.20 619.94h2.8M298.60 619.94V621.34M297.20 621.34h2.8" stroke="#3a3a3a" stroke-width="0.9" fill="none"/>
<text transform="translate(298.60,619.24) scale(0.8,1)" font-size="9.6" text-anchor="middle" font-weight="bold" fill="#000" stroke="#000" stroke-width="0.35">c</text>
<rect x="304.15" y="617.75" width="6.70" height="53.35" fill="#f97b25"/>
<path d="M306.10 617.05h2.8M307.50 617.05V618.45M306.10 618.45h2.8" stroke="#3a3a3a" stroke-width="0.9" fill="none"/>
<text transform="translate(307.50,616.35) scale(0.8,1)" font-size="9.6" text-anchor="middle" font-weight="bold" fill="#000" stroke="#000" stroke-width="0.35">c</text>
<rect x="312.85" y="614.02" width="6.70" height="57.08" fill="#a3a3a3"/>
<path d="M314.80 613.32h2.8M316.20 613.32V614.72M314.80 614.72h2.8" stroke="#3a3a3a" stroke-width="0.9" fill="none"/>
<text transform="translate(316.20,612.92) scale(0.8,1)" font-size="9.6" text-anchor="middle" font-weight="bold" fill="#000" stroke="#000" stroke-width="0.35">c</text>
<rect x="321.75" y="611.96" width="6.70" height="59.14" fill="#ffc000"/>
<path d="M323.70 611.26h2.8M325.10 611.26V612.66M323.70 612.66h2.8" stroke="#3a3a3a" stroke-width="0.9" fill="none"/>
<text transform="translate(325.10,609.96) scale(0.8,1)" font-size="9.6" text-anchor="middle" font-weight="bold" fill="#000" stroke="#000" stroke-width="0.35">c</text>
<text transform="translate(311.55,685.40) scale(0.8,1)" font-size="9.8" text-anchor="middle" font-weight="bold" fill="#595959" >CL60:40(2.5)</text>
<rect x="344.38" y="621.67" width="6.70" height="49.43" fill="#1a6fcf"/>
<path d="M346.33 620.97h2.8M347.73 620.97V622.37M346.33 622.37h2.8" stroke="#3a3a3a" stroke-width="0.9" fill="none"/>
<text transform="translate(347.73,620.77) scale(0.8,1)" font-size="9.6" text-anchor="middle" font-weight="bold" fill="#000" stroke="#000" stroke-width="0.35">c</text>
<rect x="353.28" y="617.13" width="6.70" height="53.97" fill="#f97b25"/>
<path d="M355.23 616.43h2.8M356.63 616.43V617.83M355.23 617.83h2.8" stroke="#3a3a3a" stroke-width="0.9" fill="none"/>
<text transform="translate(356.63,615.73) scale(0.8,1)" font-size="9.6" text-anchor="middle" font-weight="bold" fill="#000" stroke="#000" stroke-width="0.35">c</text>
<rect x="361.98" y="615.47" width="6.70" height="55.63" fill="#a3a3a3"/>
<path d="M363.93 614.77h2.8M365.33 614.77V616.17M363.93 616.17h2.8" stroke="#3a3a3a" stroke-width="0.9" fill="none"/>
<text transform="translate(365.33,613.97) scale(0.8,1)" font-size="9.6" text-anchor="middle" font-weight="bold" fill="#000" stroke="#000" stroke-width="0.35">c</text>
<rect x="370.88" y="611.96" width="6.70" height="59.14" fill="#ffc000"/>
<path d="M372.83 611.26h2.8M374.23 611.26V612.66M372.83 612.66h2.8" stroke="#3a3a3a" stroke-width="0.9" fill="none"/>
<text transform="translate(374.23,609.96) scale(0.8,1)" font-size="9.6" text-anchor="middle" font-weight="bold" fill="#000" stroke="#000" stroke-width="0.35">c</text>
<text transform="translate(360.68,685.40) scale(0.8,1)" font-size="9.8" text-anchor="middle" font-weight="bold" fill="#595959" >CL60:40(5)</text>
<rect x="393.51" y="621.26" width="6.70" height="49.84" fill="#1a6fcf"/>
<path d="M395.46 620.56h2.8M396.86 620.56V621.96M395.46 621.96h2.8" stroke="#3a3a3a" stroke-width="0.9" fill="none"/>
<text transform="translate(396.86,620.06) scale(0.8,1)" font-size="9.6" text-anchor="middle" font-weight="bold" fill="#000" stroke="#000" stroke-width="0.35">c</text>
<rect x="402.41" y="617.13" width="6.70" height="53.97" fill="#f97b25"/>
<path d="M404.36 616.43h2.8M405.76 616.43V617.83M404.36 617.83h2.8" stroke="#3a3a3a" stroke-width="0.9" fill="none"/>
<text transform="translate(405.76,615.73) scale(0.8,1)" font-size="9.6" text-anchor="middle" font-weight="bold" fill="#000" stroke="#000" stroke-width="0.35">c</text>
<rect x="411.11" y="616.30" width="6.70" height="54.80" fill="#a3a3a3"/>
<path d="M413.06 615.60h2.8M414.46 615.60V617.00M413.06 617.00h2.8" stroke="#3a3a3a" stroke-width="0.9" fill="none"/>
<text transform="translate(414.46,614.80) scale(0.8,1)" font-size="9.6" text-anchor="middle" font-weight="bold" fill="#000" stroke="#000" stroke-width="0.35">c</text>
<rect x="420.01" y="614.23" width="6.70" height="56.87" fill="#ffc000"/>
<path d="M421.96 613.53h2.8M423.36 613.53V614.93M421.96 614.93h2.8" stroke="#3a3a3a" stroke-width="0.9" fill="none"/>
<text transform="translate(423.36,610.63) scale(0.8,1)" font-size="9.6" text-anchor="middle" font-weight="bold" fill="#000" stroke="#000" stroke-width="0.35">c</text>
<text transform="translate(409.81,685.40) scale(0.8,1)" font-size="9.8" text-anchor="middle" font-weight="bold" fill="#595959" >CL90:10(0)</text>
<rect x="442.64" y="620.64" width="6.70" height="50.46" fill="#1a6fcf"/>
<path d="M444.59 619.94h2.8M445.99 619.94V621.34M444.59 621.34h2.8" stroke="#3a3a3a" stroke-width="0.9" fill="none"/>
<text transform="translate(445.99,618.64) scale(0.8,1)" font-size="9.6" text-anchor="middle" font-weight="bold" fill="#000" stroke="#000" stroke-width="0.35">c</text>
<rect x="451.54" y="616.71" width="6.70" height="54.39" fill="#f97b25"/>
<path d="M453.49 616.01h2.8M454.89 616.01V617.41M453.49 617.41h2.8" stroke="#3a3a3a" stroke-width="0.9" fill="none"/>
<text transform="translate(454.89,614.51) scale(0.8,1)" font-size="9.6" text-anchor="middle" font-weight="bold" fill="#000" stroke="#000" stroke-width="0.35">c</text>
<rect x="460.24" y="615.68" width="6.70" height="55.42" fill="#a3a3a3"/>
<path d="M462.19 614.98h2.8M463.59 614.98V616.38M462.19 616.38h2.8" stroke="#3a3a3a" stroke-width="0.9" fill="none"/>
<text transform="translate(463.59,613.28) scale(0.8,1)" font-size="9.6" text-anchor="middle" font-weight="bold" fill="#000" stroke="#000" stroke-width="0.35">c</text>
<rect x="469.14" y="615.06" width="6.70" height="56.04" fill="#ffc000"/>
<path d="M471.09 614.36h2.8M472.49 614.36V615.76M471.09 615.76h2.8" stroke="#3a3a3a" stroke-width="0.9" fill="none"/>
<text transform="translate(472.49,613.66) scale(0.8,1)" font-size="9.6" text-anchor="middle" font-weight="bold" fill="#000" stroke="#000" stroke-width="0.35">c</text>
<text transform="translate(458.94,685.40) scale(0.8,1)" font-size="9.8" text-anchor="middle" font-weight="bold" fill="#595959" >CL90:10(2.5)</text>
<rect x="491.77" y="620.85" width="6.70" height="50.25" fill="#1a6fcf"/>
<path d="M493.72 620.15h2.8M495.12 620.15V621.55M493.72 621.55h2.8" stroke="#3a3a3a" stroke-width="0.9" fill="none"/>
<text transform="translate(495.12,620.05) scale(0.8,1)" font-size="9.6" text-anchor="middle" font-weight="bold" fill="#000" stroke="#000" stroke-width="0.35">c</text>
<rect x="500.67" y="618.57" width="6.70" height="52.53" fill="#f97b25"/>
<path d="M502.62 617.87h2.8M504.02 617.87V619.27M502.62 619.27h2.8" stroke="#3a3a3a" stroke-width="0.9" fill="none"/>
<text transform="translate(504.02,617.77) scale(0.8,1)" font-size="9.6" text-anchor="middle" font-weight="bold" fill="#000" stroke="#000" stroke-width="0.35">c</text>
<rect x="509.37" y="617.33" width="6.70" height="53.77" fill="#a3a3a3"/>
<path d="M511.32 616.63h2.8M512.72 616.63V618.03M511.32 618.03h2.8" stroke="#3a3a3a" stroke-width="0.9" fill="none"/>
<text transform="translate(512.72,615.93) scale(0.8,1)" font-size="9.6" text-anchor="middle" font-weight="bold" fill="#000" stroke="#000" stroke-width="0.35">c</text>
<rect x="518.27" y="615.06" width="6.70" height="56.04" fill="#ffc000"/>
<path d="M520.22 614.36h2.8M521.62 614.36V615.76M520.22 615.76h2.8" stroke="#3a3a3a" stroke-width="0.9" fill="none"/>
<text transform="translate(521.62,613.06) scale(0.8,1)" font-size="9.6" text-anchor="middle" font-weight="bold" fill="#000" stroke="#000" stroke-width="0.35">c</text>
<text transform="translate(508.07,685.40) scale(0.8,1)" font-size="9.8" text-anchor="middle" font-weight="bold" fill="#595959" >CL90:10(5)</text>
<text transform="translate(48.50,478.00) scale(1.0,1)" font-size="18.5" text-anchor="start" font-weight="bold" fill="#000" >c</text>
<text transform="translate(18.70,568.00) rotate(-90)" font-size="9.9" text-anchor="middle" font-weight="bold" fill="#595959">Swelling power (%)</text>
<text transform="translate(441.50,506.60) scale(0.9,1)" font-size="9.6" text-anchor="start" font-weight="bold" fill="#000" >Temperature (°C)</text>
<rect x="434.00" y="514.80" width="3.60" height="3.60" fill="#1a6fcf"/>
<text transform="translate(440.60,520.40) scale(0.85,1)" font-size="9.6" text-anchor="start" font-weight="bold" fill="#595959" >60</text>
<rect x="456.50" y="514.80" width="3.60" height="3.60" fill="#f97b25"/>
<text transform="translate(463.00,520.40) scale(0.85,1)" font-size="9.6" text-anchor="start" font-weight="bold" fill="#595959" >70</text>
<rect x="478.30" y="514.80" width="3.60" height="3.60" fill="#a3a3a3"/>
<text transform="translate(484.80,520.40) scale(0.85,1)" font-size="9.6" text-anchor="start" font-weight="bold" fill="#595959" >80</text>
<rect x="500.20" y="514.80" width="3.60" height="3.60" fill="#ffc000"/>
<text transform="translate(506.60,520.40) scale(0.85,1)" font-size="9.6" text-anchor="start" font-weight="bold" fill="#595959" >90</text>
<text transform="translate(36.20,881.20) scale(0.88,1)" font-size="8.6" text-anchor="end" font-weight="bold" fill="#4d4d4d" >0</text>
<text transform="translate(36.20,855.40) scale(0.88,1)" font-size="8.6" text-anchor="end" font-weight="bold" fill="#4d4d4d" >5</text>
<text transform="translate(36.20,829.60) scale(0.88,1)" font-size="8.6" text-anchor="end" font-weight="bold" fill="#4d4d4d" >10</text>
<text transform="translate(36.20,803.80) scale(0.88,1)" font-size="8.6" text-anchor="end" font-weight="bold" fill="#4d4d4d" >15</text>
<text transform="translate(36.20,778.00) scale(0.88,1)" font-size="8.6" text-anchor="end" font-weight="bold" fill="#4d4d4d" >20</text>
<text transform="translate(36.20,752.20) scale(0.88,1)" font-size="8.6" text-anchor="end" font-weight="bold" fill="#4d4d4d" >25</text>
<text transform="translate(36.20,726.40) scale(0.88,1)" font-size="8.6" text-anchor="end" font-weight="bold" fill="#4d4d4d" >30</text>
<text transform="translate(36.20,700.60) scale(0.88,1)" font-size="8.6" text-anchor="end" font-weight="bold" fill="#4d4d4d" >35</text>
<line x1="42" y1="878.80" x2="542.7" y2="878.80" stroke="#d9d9d9" stroke-width="1"/>
<rect x="51.00" y="875.00" width="7.00" height="3.30" fill="#1a6fcf"/>
<path d="M53.10 874.00h2.8M54.50 874.00V876.00M53.10 876.00h2.8" stroke="#3a3a3a" stroke-width="0.9" fill="none"/>
<text x="54.50" y="872.50" font-size="8.8" text-anchor="middle" font-weight="bold" fill="#000" >a</text>
<rect x="60.00" y="825.67" width="7.00" height="52.63" fill="#f97b25"/>
<path d="M62.10 822.87h2.8M63.50 822.87V828.47M62.10 828.47h2.8" stroke="#3a3a3a" stroke-width="0.9" fill="none"/>
<text x="63.50" y="821.37" font-size="8.8" text-anchor="middle" font-weight="bold" fill="#000" >a</text>
<rect x="69.00" y="782.32" width="7.00" height="95.98" fill="#a3a3a3"/>
<path d="M71.10 782.02h2.8M72.50 782.02V782.62M71.10 782.62h2.8" stroke="#3a3a3a" stroke-width="0.9" fill="none"/>
<text x="72.50" y="780.52" font-size="8.8" text-anchor="middle" font-weight="bold" fill="#000" >a</text>
<rect x="78.00" y="762.20" width="7.00" height="116.10" fill="#ffc000"/>
<path d="M80.10 760.90h2.8M81.50 760.90V763.50M80.10 763.50h2.8" stroke="#3a3a3a" stroke-width="0.9" fill="none"/>
<text x="81.50" y="759.40" font-size="8.8" text-anchor="middle" font-weight="bold" fill="#000" >a</text>
<text transform="translate(67.80,891.00) scale(0.93,1)" font-size="8.6" text-anchor="middle" font-weight="bold" fill="#595959" >Native</text>
<rect x="101.04" y="875.20" width="7.00" height="3.10" fill="#1a6fcf"/>
<path d="M103.14 871.20h2.8M104.54 871.20V879.20M103.14 879.20h2.8" stroke="#3a3a3a" stroke-width="0.9" fill="none"/>
<text x="104.54" y="869.70" font-size="8.8" text-anchor="middle" font-weight="bold" fill="#000" >a</text>
<rect x="110.04" y="834.44" width="7.00" height="43.86" fill="#f97b25"/>
<path d="M112.14 833.14h2.8M113.54 833.14V835.74M112.14 835.74h2.8" stroke="#3a3a3a" stroke-width="0.9" fill="none"/>
<text x="113.54" y="831.64" font-size="8.8" text-anchor="middle" font-weight="bold" fill="#000" >b</text>
<rect x="119.04" y="812.25" width="7.00" height="66.05" fill="#a3a3a3"/>
<path d="M121.14 810.95h2.8M122.54 810.95V813.55M121.14 813.55h2.8" stroke="#3a3a3a" stroke-width="0.9" fill="none"/>
<text x="122.54" y="809.45" font-size="8.8" text-anchor="middle" font-weight="bold" fill="#000" >b</text>
<rect x="128.04" y="779.23" width="7.00" height="99.07" fill="#ffc000"/>
<path d="M130.14 778.33h2.8M131.54 778.33V780.13M130.14 780.13h2.8" stroke="#3a3a3a" stroke-width="0.9" fill="none"/>
<text x="131.54" y="776.83" font-size="8.8" text-anchor="middle" font-weight="bold" fill="#000" >b</text>
<text transform="translate(117.84,891.00) scale(0.93,1)" font-size="8.6" text-anchor="middle" font-weight="bold" fill="#595959" >CL30:70(0)</text>
<rect x="151.08" y="877.27" width="7.00" height="1.03" fill="#1a6fcf"/>
<path d="M153.18 875.27h2.8M154.58 875.27V879.27M153.18 879.27h2.8" stroke="#3a3a3a" stroke-width="0.9" fill="none"/>
<text x="154.58" y="873.77" font-size="8.8" text-anchor="middle" font-weight="bold" fill="#000" >a</text>
<rect x="160.08" y="842.70" width="7.00" height="35.60" fill="#f97b25"/>
<path d="M162.18 841.70h2.8M163.58 841.70V843.70M162.18 843.70h2.8" stroke="#3a3a3a" stroke-width="0.9" fill="none"/>
<text x="163.58" y="840.20" font-size="8.8" text-anchor="middle" font-weight="bold" fill="#000" >b</text>
<rect x="169.08" y="820.51" width="7.00" height="57.79" fill="#a3a3a3"/>
<path d="M171.18 819.01h2.8M172.58 819.01V822.01M171.18 822.01h2.8" stroke="#3a3a3a" stroke-width="0.9" fill="none"/>
<text x="172.58" y="817.51" font-size="8.8" text-anchor="middle" font-weight="bold" fill="#000" >b</text>
<rect x="178.08" y="780.26" width="7.00" height="98.04" fill="#ffc000"/>
<path d="M180.18 778.96h2.8M181.58 778.96V781.56M180.18 781.56h2.8" stroke="#3a3a3a" stroke-width="0.9" fill="none"/>
<text x="181.58" y="777.46" font-size="8.8" text-anchor="middle" font-weight="bold" fill="#000" >b</text>
<text transform="translate(167.88,891.00) scale(0.93,1)" font-size="8.6" text-anchor="middle" font-weight="bold" fill="#595959" >CL30:70(2.5)</text>
<rect x="201.12" y="871.59" width="7.00" height="6.71" fill="#1a6fcf"/>
<path d="M203.22 869.09h2.8M204.62 869.09V874.09M203.22 874.09h2.8" stroke="#3a3a3a" stroke-width="0.9" fill="none"/>
<text x="204.62" y="867.59" font-size="8.8" text-anchor="middle" font-weight="bold" fill="#000" >a</text>
<rect x="210.12" y="844.76" width="7.00" height="33.54" fill="#f97b25"/>
<path d="M212.22 842.26h2.8M213.62 842.26V847.26M212.22 847.26h2.8" stroke="#3a3a3a" stroke-width="0.9" fill="none"/>
<text x="213.62" y="840.76" font-size="8.8" text-anchor="middle" font-weight="bold" fill="#000" >b</text>
<rect x="219.12" y="822.57" width="7.00" height="55.73" fill="#a3a3a3"/>
<path d="M221.22 821.57h2.8M222.62 821.57V823.57M221.22 823.57h2.8" stroke="#3a3a3a" stroke-width="0.9" fill="none"/>
<text x="222.62" y="820.07" font-size="8.8" text-anchor="middle" font-weight="bold" fill="#000" >b</text>
<rect x="228.12" y="788.00" width="7.00" height="90.30" fill="#ffc000"/>
<path d="M230.22 785.50h2.8M231.62 785.50V790.50M230.22 790.50h2.8" stroke="#3a3a3a" stroke-width="0.9" fill="none"/>
<text x="231.62" y="784.00" font-size="8.8" text-anchor="middle" font-weight="bold" fill="#000" >b</text>
<text transform="translate(217.92,891.00) scale(0.93,1)" font-size="8.6" text-anchor="middle" font-weight="bold" fill="#595959" >CL30:70(5)</text>
<rect x="251.16" y="875.98" width="7.00" height="2.32" fill="#1a6fcf"/>
<path d="M253.26 874.48h2.8M254.66 874.48V877.48M253.26 877.48h2.8" stroke="#3a3a3a" stroke-width="0.9" fill="none"/>
<text x="254.66" y="872.98" font-size="8.8" text-anchor="middle" font-weight="bold" fill="#000" >a</text>
<rect x="260.16" y="850.44" width="7.00" height="27.86" fill="#f97b25"/>
<path d="M262.26 848.44h2.8M263.66 848.44V852.44M262.26 852.44h2.8" stroke="#3a3a3a" stroke-width="0.9" fill="none"/>
<text x="263.66" y="846.94" font-size="8.8" text-anchor="middle" font-weight="bold" fill="#000" >b</text>
<rect x="269.16" y="823.09" width="7.00" height="55.21" fill="#a3a3a3"/>
<path d="M271.26 821.09h2.8M272.66 821.09V825.09M271.26 825.09h2.8" stroke="#3a3a3a" stroke-width="0.9" fill="none"/>
<text x="272.66" y="819.59" font-size="8.8" text-anchor="middle" font-weight="bold" fill="#000" >b</text>
<rect x="278.16" y="787.48" width="7.00" height="90.82" fill="#ffc000"/>
<path d="M280.26 786.68h2.8M281.66 786.68V788.28M280.26 788.28h2.8" stroke="#3a3a3a" stroke-width="0.9" fill="none"/>
<text x="281.66" y="785.18" font-size="8.8" text-anchor="middle" font-weight="bold" fill="#000" >b</text>
<text transform="translate(267.96,891.00) scale(0.93,1)" font-size="8.6" text-anchor="middle" font-weight="bold" fill="#595959" >CL60:40(0)</text>
<rect x="301.20" y="872.62" width="7.00" height="5.68" fill="#1a6fcf"/>
<path d="M303.30 871.12h2.8M304.70 871.12V874.12M303.30 874.12h2.8" stroke="#3a3a3a" stroke-width="0.9" fill="none"/>
<text x="304.70" y="869.62" font-size="8.8" text-anchor="middle" font-weight="bold" fill="#000" >a</text>
<rect x="310.20" y="847.34" width="7.00" height="30.96" fill="#f97b25"/>
<path d="M312.30 846.54h2.8M313.70 846.54V848.14M312.30 848.14h2.8" stroke="#3a3a3a" stroke-width="0.9" fill="none"/>
<text x="313.70" y="845.04" font-size="8.8" text-anchor="middle" font-weight="bold" fill="#000" >b</text>
<rect x="319.20" y="826.18" width="7.00" height="52.12" fill="#a3a3a3"/>
<path d="M321.30 824.98h2.8M322.70 824.98V827.38M321.30 827.38h2.8" stroke="#3a3a3a" stroke-width="0.9" fill="none"/>
<text x="322.70" y="823.48" font-size="8.8" text-anchor="middle" font-weight="bold" fill="#000" >b</text>
<rect x="328.20" y="786.45" width="7.00" height="91.85" fill="#ffc000"/>
<path d="M330.30 784.95h2.8M331.70 784.95V787.95M330.30 787.95h2.8" stroke="#3a3a3a" stroke-width="0.9" fill="none"/>
<text x="331.70" y="783.45" font-size="8.8" text-anchor="middle" font-weight="bold" fill="#000" >b</text>
<text transform="translate(318.00,891.00) scale(0.93,1)" font-size="8.6" text-anchor="middle" font-weight="bold" fill="#595959" >CL60:40(2.5)</text>
<rect x="351.24" y="872.62" width="7.00" height="5.68" fill="#1a6fcf"/>
<path d="M353.34 871.12h2.8M354.74 871.12V874.12M353.34 874.12h2.8" stroke="#3a3a3a" stroke-width="0.9" fill="none"/>
<text x="354.74" y="869.62" font-size="8.8" text-anchor="middle" font-weight="bold" fill="#000" >a</text>
<rect x="360.24" y="851.98" width="7.00" height="26.32" fill="#f97b25"/>
<path d="M362.34 849.98h2.8M363.74 849.98V853.98M362.34 853.98h2.8" stroke="#3a3a3a" stroke-width="0.9" fill="none"/>
<text x="363.74" y="848.48" font-size="8.8" text-anchor="middle" font-weight="bold" fill="#000" >b</text>
<rect x="369.24" y="827.22" width="7.00" height="51.08" fill="#a3a3a3"/>
<path d="M371.34 825.22h2.8M372.74 825.22V829.22M371.34 829.22h2.8" stroke="#3a3a3a" stroke-width="0.9" fill="none"/>
<text x="372.74" y="823.72" font-size="8.8" text-anchor="middle" font-weight="bold" fill="#000" >b</text>
<rect x="378.24" y="790.58" width="7.00" height="87.72" fill="#ffc000"/>
<path d="M380.34 789.78h2.8M381.74 789.78V791.38M380.34 791.38h2.8" stroke="#3a3a3a" stroke-width="0.9" fill="none"/>
<text x="381.74" y="788.28" font-size="8.8" text-anchor="middle" font-weight="bold" fill="#000" >b</text>
<text transform="translate(368.04,891.00) scale(0.93,1)" font-size="8.6" text-anchor="middle" font-weight="bold" fill="#595959" >C L60:40(5)</text>
<rect x="401.28" y="869.53" width="7.00" height="8.77" fill="#1a6fcf"/>
<path d="M403.38 868.03h2.8M404.78 868.03V871.03M403.38 871.03h2.8" stroke="#3a3a3a" stroke-width="0.9" fill="none"/>
<text x="404.78" y="866.53" font-size="8.8" text-anchor="middle" font-weight="bold" fill="#000" >a</text>
<rect x="410.28" y="850.95" width="7.00" height="27.35" fill="#f97b25"/>
<path d="M412.38 848.45h2.8M413.78 848.45V853.45M412.38 853.45h2.8" stroke="#3a3a3a" stroke-width="0.9" fill="none"/>
<text x="413.78" y="846.95" font-size="8.8" text-anchor="middle" font-weight="bold" fill="#000" >b</text>
<rect x="419.28" y="823.09" width="7.00" height="55.21" fill="#a3a3a3"/>
<path d="M421.38 821.09h2.8M422.78 821.09V825.09M421.38 825.09h2.8" stroke="#3a3a3a" stroke-width="0.9" fill="none"/>
<text x="422.78" y="819.59" font-size="8.8" text-anchor="middle" font-weight="bold" fill="#000" >b</text>
<rect x="428.28" y="788.00" width="7.00" height="90.30" fill="#ffc000"/>
<path d="M430.38 785.00h2.8M431.78 785.00V791.00M430.38 791.00h2.8" stroke="#3a3a3a" stroke-width="0.9" fill="none"/>
<text x="431.78" y="783.50" font-size="8.8" text-anchor="middle" font-weight="bold" fill="#000" >b</text>
<text transform="translate(418.08,891.00) scale(0.93,1)" font-size="8.6" text-anchor="middle" font-weight="bold" fill="#595959" >CL90:10(0)</text>
<rect x="451.32" y="870.56" width="7.00" height="7.74" fill="#1a6fcf"/>
<path d="M453.42 869.36h2.8M454.82 869.36V871.76M453.42 871.76h2.8" stroke="#3a3a3a" stroke-width="0.9" fill="none"/>
<text x="454.82" y="867.86" font-size="8.8" text-anchor="middle" font-weight="bold" fill="#000" >a</text>
<rect x="460.32" y="849.92" width="7.00" height="28.38" fill="#f97b25"/>
<path d="M462.42 847.42h2.8M463.82 847.42V852.42M462.42 852.42h2.8" stroke="#3a3a3a" stroke-width="0.9" fill="none"/>
<text x="463.82" y="845.92" font-size="8.8" text-anchor="middle" font-weight="bold" fill="#000" >b</text>
<rect x="469.32" y="824.12" width="7.00" height="54.18" fill="#a3a3a3"/>
<path d="M471.42 822.12h2.8M472.82 822.12V826.12M471.42 826.12h2.8" stroke="#3a3a3a" stroke-width="0.9" fill="none"/>
<text x="472.82" y="820.62" font-size="8.8" text-anchor="middle" font-weight="bold" fill="#000" >b</text>
<rect x="478.32" y="788.52" width="7.00" height="89.78" fill="#ffc000"/>
<path d="M480.42 788.02h2.8M481.82 788.02V789.02M480.42 789.02h2.8" stroke="#3a3a3a" stroke-width="0.9" fill="none"/>
<text x="481.82" y="786.52" font-size="8.8" text-anchor="middle" font-weight="bold" fill="#000" >b</text>
<text transform="translate(468.12,891.00) scale(0.93,1)" font-size="8.6" text-anchor="middle" font-weight="bold" fill="#595959" >CL90:10(2.5)</text>
<rect x="501.36" y="871.08" width="7.00" height="7.22" fill="#1a6fcf"/>
<path d="M503.46 869.58h2.8M504.86 869.58V872.58M503.46 872.58h2.8" stroke="#3a3a3a" stroke-width="0.9" fill="none"/>
<text x="504.86" y="868.08" font-size="8.8" text-anchor="middle" font-weight="bold" fill="#000" >a</text>
<rect x="510.36" y="845.79" width="7.00" height="32.51" fill="#f97b25"/>
<path d="M512.46 843.79h2.8M513.86 843.79V847.79M512.46 847.79h2.8" stroke="#3a3a3a" stroke-width="0.9" fill="none"/>
<text x="513.86" y="842.29" font-size="8.8" text-anchor="middle" font-weight="bold" fill="#000" >b</text>
<rect x="519.36" y="823.60" width="7.00" height="54.70" fill="#a3a3a3"/>
<path d="M521.46 823.10h2.8M522.86 823.10V824.10M521.46 824.10h2.8" stroke="#3a3a3a" stroke-width="0.9" fill="none"/>
<text x="522.86" y="821.60" font-size="8.8" text-anchor="middle" font-weight="bold" fill="#000" >b</text>
<rect x="528.36" y="788.52" width="7.00" height="89.78" fill="#ffc000"/>
<path d="M530.46 786.72h2.8M531.86 786.72V790.32M530.46 790.32h2.8" stroke="#3a3a3a" stroke-width="0.9" fill="none"/>
<text x="531.86" y="785.22" font-size="8.8" text-anchor="middle" font-weight="bold" fill="#000" >b</text>
<text transform="translate(518.16,891.00) scale(0.93,1)" font-size="8.6" text-anchor="middle" font-weight="bold" fill="#595959" >CL90:10(5)</text>
<text x="47.30" y="718.50" font-size="18" text-anchor="start" font-weight="bold" fill="#000" >d</text>
<text transform="translate(23.60,787.80) rotate(-90)" font-size="9.0" text-anchor="middle" font-weight="bold" fill="#595959">Solubility (%)</text>
<text x="452.40" y="729.50" font-size="8.6" text-anchor="start" font-weight="bold" fill="#000" >Temperature (°C)</text>
<rect x="444.20" y="737.50" width="3.60" height="3.60" fill="#1a6fcf"/>
<text x="449.30" y="743.00" font-size="8.6" text-anchor="start" font-weight="bold" fill="#595959" >60</text>
<rect x="468.20" y="737.50" width="3.60" height="3.60" fill="#f97b25"/>
<text x="473.40" y="743.00" font-size="8.6" text-anchor="start" font-weight="bold" fill="#595959" >70</text>
<rect x="492.70" y="737.50" width="3.60" height="3.60" fill="#a3a3a3"/>
<text x="497.30" y="743.00" font-size="8.6" text-anchor="start" font-weight="bold" fill="#595959" >80</text>
<rect x="516.00" y="737.50" width="3.60" height="3.60" fill="#ffc000"/>
<text x="521.20" y="743.00" font-size="8.6" text-anchor="start" font-weight="bold" fill="#595959" >90</text>
</svg>
</body></html>
